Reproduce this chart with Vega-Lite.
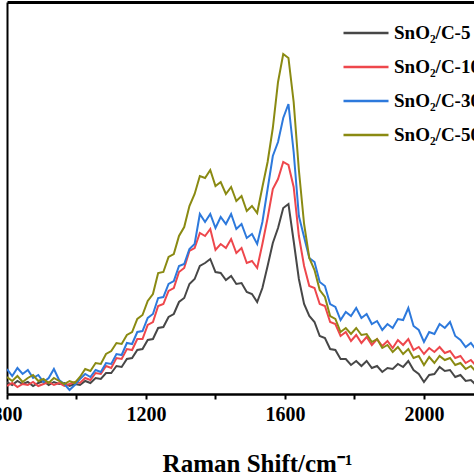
{
  "$schema": "https://vega.github.io/schema/vega-lite/v6.json",
  "width": 467,
  "height": 392,
  "autosize": {"type": "none"},
  "padding": {"left": 7, "top": 2, "right": 0, "bottom": 80},
  "background": "white",
  "config": {"view": {"stroke": null}, "font": "Liberation Serif"},
  "data": {"values": [
    {"x":800,"a":12,"b":8,"c":25,"d":17},{"x":815,"a":9,"b":11,"c":18,"d":13},{"x":830,"a":13,"b":7,"c":26,"d":18},{"x":845,"a":10,"b":10,"c":20,"d":12},
    {"x":860,"a":12,"b":9,"c":24,"d":16},{"x":875,"a":8,"b":12,"c":16,"d":19},{"x":890,"a":11,"b":8,"c":19,"d":13},{"x":905,"a":13,"b":10,"c":12,"d":15},
    {"x":920,"a":9,"b":12,"c":16,"d":11},{"x":935,"a":12,"b":9,"c":25,"d":16},{"x":950,"a":10,"b":11,"c":14,"d":13},{"x":965,"a":11,"b":8,"c":10,"d":10},
    {"x":980,"a":8,"b":10,"c":4,"d":13},{"x":995,"a":10,"b":12,"c":9,"d":11},{"x":1010,"a":9,"b":11,"c":15,"d":17},{"x":1025,"a":13,"b":16,"c":20,"d":25},
    {"x":1040,"a":11,"b":14,"c":17,"d":23},{"x":1055,"a":16,"b":21,"c":24,"d":31},{"x":1070,"a":15,"b":20,"c":22,"d":30},{"x":1085,"a":21,"b":28,"c":31,"d":40},
    {"x":1100,"a":21,"b":26,"c":30,"d":43},{"x":1115,"a":28,"b":36,"c":40,"d":51},{"x":1130,"a":27,"b":35,"c":39,"d":50},{"x":1145,"a":35,"b":45,"c":51,"d":59},
    {"x":1160,"a":36,"b":44,"c":50,"d":62},{"x":1175,"a":44,"b":55,"c":62,"d":75},{"x":1190,"a":45,"b":55,"c":63,"d":79},{"x":1205,"a":54,"b":69,"c":76,"d":93},
    {"x":1220,"a":55,"b":72,"c":80,"d":100},{"x":1235,"a":66,"b":88,"c":96,"d":121},{"x":1250,"a":67,"b":90,"c":97,"d":122},{"x":1265,"a":77,"b":103,"c":110,"d":137},
    {"x":1280,"a":80,"b":106,"c":113,"d":140},{"x":1295,"a":92,"b":122,"c":128,"d":158},{"x":1310,"a":96,"b":126,"c":130,"d":167},{"x":1325,"a":110,"b":143,"c":145,"d":188},
    {"x":1340,"a":115,"b":146,"c":150,"d":200},{"x":1355,"a":128,"b":161,"c":180,"d":218},{"x":1370,"a":131,"b":158,"c":172,"d":216},{"x":1385,"a":135,"b":165,"c":180,"d":224},
    {"x":1400,"a":122,"b":144,"c":166,"d":208},{"x":1415,"a":121,"b":150,"c":177,"d":212},{"x":1430,"a":114,"b":146,"c":170,"d":200},{"x":1445,"a":118,"b":155,"c":180,"d":207},
    {"x":1460,"a":110,"b":141,"c":165,"d":193},{"x":1475,"a":111,"b":146,"c":170,"d":198},{"x":1490,"a":102,"b":131,"c":156,"d":183},{"x":1505,"a":100,"b":133,"c":160,"d":188},
    {"x":1520,"a":92,"b":126,"c":150,"d":181},{"x":1535,"a":106,"b":150,"c":172,"d":207},{"x":1550,"a":128,"b":176,"c":205,"d":232},{"x":1565,"a":151,"b":205,"c":238,"d":266},
    {"x":1580,"a":166,"b":215,"c":252,"d":312},{"x":1595,"a":186,"b":232,"c":276,"d":340},{"x":1610,"a":190,"b":229,"c":290,"d":336},{"x":1625,"a":153,"b":207,"c":242,"d":292},
    {"x":1640,"a":115,"b":158,"c":178,"d":224},{"x":1655,"a":90,"b":128,"c":157,"d":170},{"x":1670,"a":78,"b":108,"c":136,"d":136},{"x":1685,"a":72,"b":106,"c":132,"d":124},
    {"x":1700,"a":58,"b":90,"c":112,"d":104},{"x":1715,"a":56,"b":88,"c":108,"d":97},{"x":1730,"a":45,"b":72,"c":90,"d":78},{"x":1745,"a":44,"b":70,"c":87,"d":75},
    {"x":1760,"a":35,"b":58,"c":74,"d":62},{"x":1775,"a":35,"b":62,"c":82,"d":66},{"x":1790,"a":29,"b":53,"c":78,"d":60},{"x":1805,"a":33,"b":59,"c":86,"d":66},
    {"x":1820,"a":28,"b":51,"c":76,"d":59},{"x":1835,"a":33,"b":57,"c":80,"d":60},{"x":1850,"a":26,"b":49,"c":70,"d":52},{"x":1865,"a":28,"b":55,"c":73,"d":55},
    {"x":1880,"a":22,"b":48,"c":64,"d":46},{"x":1895,"a":26,"b":53,"c":70,"d":49},{"x":1910,"a":25,"b":46,"c":66,"d":42},{"x":1925,"a":30,"b":54,"c":75,"d":47},
    {"x":1940,"a":27,"b":49,"c":74,"d":40},{"x":1955,"a":33,"b":55,"c":86,"d":45},{"x":1970,"a":24,"b":44,"c":68,"d":36},{"x":1985,"a":20,"b":47,"c":64,"d":38},
    {"x":2000,"a":12,"b":40,"c":52,"d":29},{"x":2015,"a":19,"b":46,"c":62,"d":37},{"x":2030,"a":20,"b":42,"c":60,"d":31},{"x":2045,"a":27,"b":47,"c":70,"d":38},
    {"x":2060,"a":23,"b":41,"c":66,"d":34},{"x":2075,"a":24,"b":43,"c":72,"d":36},{"x":2090,"a":17,"b":36,"c":58,"d":29},{"x":2105,"a":19,"b":38,"c":54,"d":31},
    {"x":2120,"a":13,"b":31,"c":47,"d":25},{"x":2135,"a":14,"b":34,"c":51,"d":28},{"x":2150,"a":9,"b":28,"c":44,"d":22}
  ]},
  "transform": [{"fold": ["a", "b", "c", "d"], "as": ["series", "intensity"]}],
  "layer": [
    {
      "mark": {"type": "line", "strokeWidth": 2, "clip": true},
      "encoding": {
        "x": {
          "field": "x", "type": "quantitative",
          "scale": {"domain": [800, 2144], "nice": false, "zero": false},
          "axis": {
            "orient": "bottom",
            "values": [800, 1000, 1200, 1400, 1600, 1800, 2000],
            "format": "d",
            "labelExpr": "datum.value % 400 == 0 ? datum.label : ''",
            "labelFont": "Liberation Serif", "labelFontWeight": "bold", "labelFontSize": 20, "labelColor": "black",
            "labelPadding": 5, "labelFlush": false, "labelOverlap": false,
            "tickColor": "black", "tickWidth": 2, "tickSize": 5,
            "domainColor": "black", "domainWidth": 2.5, "grid": false,
            "title": "Raman Shift/cm⁻¹",
            "titleFont": "Liberation Serif", "titleFontWeight": "bold", "titleFontSize": 25, "titleColor": "black",
            "titlePadding": 27, "titleX": 250
          }
        },
        "y": {
          "field": "intensity", "type": "quantitative",
          "scale": {"domain": [0, 392], "nice": false},
          "axis": {"labels": false, "ticks": false, "title": null, "grid": false, "domainColor": "black", "domainWidth": 2}
        },
        "color": {
          "field": "series", "type": "nominal",
          "scale": {"domain": ["a", "b", "c", "d"], "range": ["#474747", "#ee474c", "#2d79dc", "#8a8a12"]},
          "legend": {
            "orient": "none", "legendX": 335, "legendY": 7, "title": null,
            "symbolType": "stroke", "symbolSize": 2025, "symbolStrokeWidth": 2.5,
            "labelFont": "Liberation Serif", "labelFontWeight": "bold", "labelFontSize": 19, "labelColor": "black",
            "labelLimit": 0, "labelOffset": 4, "rowPadding": 0,
            "labelExpr": "datum.label == 'a' ? 'SnO₂/C-5' : datum.label == 'b' ? 'SnO₂/C-10' : datum.label == 'c' ? 'SnO₂/C-30' : 'SnO₂/C-50'"
          }
        }
      }
    },
    {
      "mark": {"type": "line", "strokeOpacity": 0},
      "encoding": {
        "x": {
          "field": "x", "type": "quantitative",
          "axis": {"orient": "top", "labels": false, "ticks": false, "title": null, "grid": false, "domainColor": "black", "domainWidth": 3}
        },
        "y": {
          "field": "intensity", "type": "quantitative",
          "axis": {"labels": false, "ticks": false, "title": null, "grid": false, "domainColor": "black", "domainWidth": 2}
        },
        "detail": {"field": "series"}
      }
    }
  ],
  "resolve": {"axis": {"x": "independent"}}
}
